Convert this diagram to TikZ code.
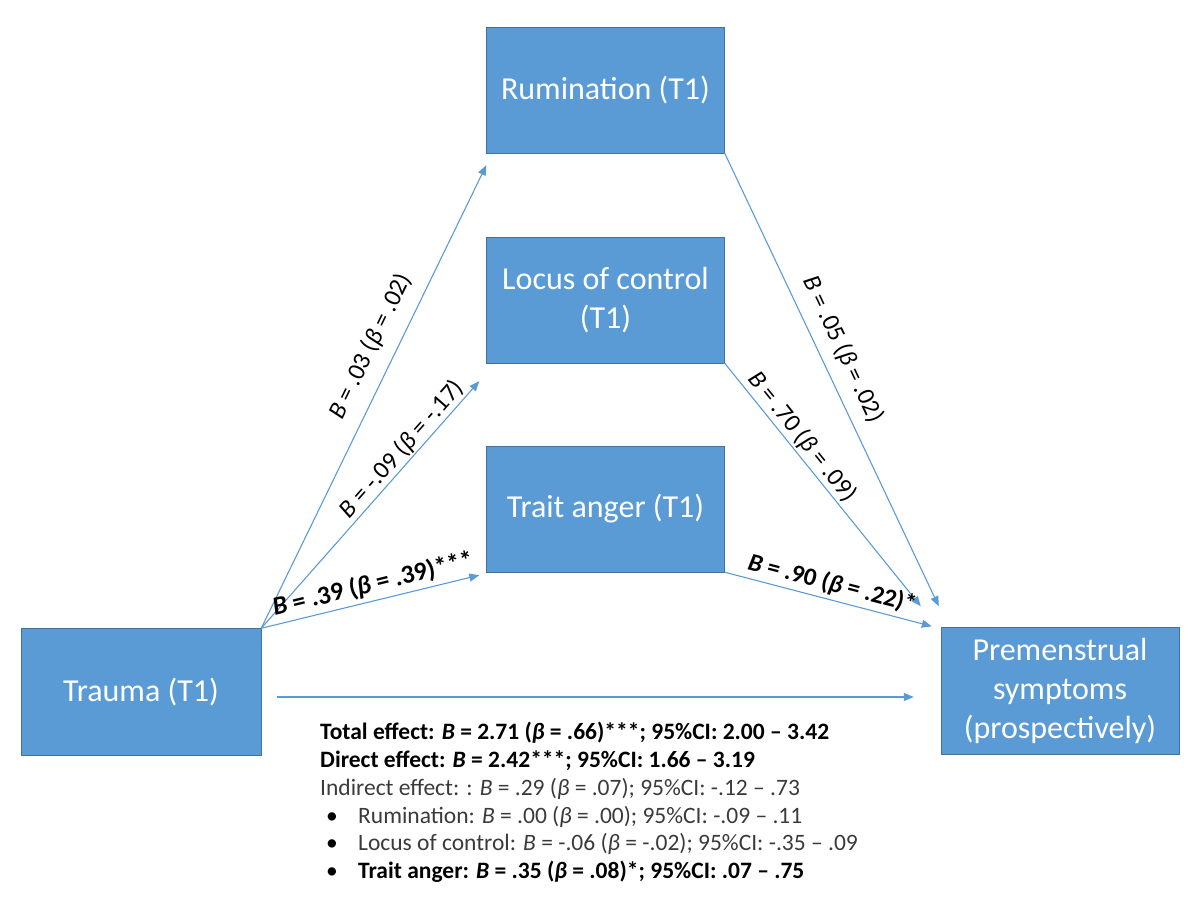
\documentclass[tikz,border=0pt]{standalone}
\usepackage{fontspec}
\setmainfont{Carlito}
\usetikzlibrary{arrows.meta}
\usepackage{xcolor}

\definecolor{boxblue}{HTML}{5B9BD5}
\definecolor{boxedge}{HTML}{41719C}
\definecolor{txtgray}{HTML}{3A3A3A}
\newcommand{\effbullet}{\hspace*{6pt}\makebox[32pt][l]{\color{black}•}}

\begin{document}
\begin{tikzpicture}[
    x=1pt, y=-1pt,        % pixel grid, y runs downwards
    >={Triangle[length=10pt, width=8pt]},
    var/.style = {
        rectangle, draw = boxedge, fill = boxblue,
        minimum width = 238pt, minimum height = 126pt,
        text = white, align = center,
        font = \fontsize{32}{39}\selectfont
    },
    coef/.style = {
        sloped, above, inner sep = 4pt, text = black,
        font = \fontsize{25}{30}\selectfont
    },
    effects/.style = {
        align = left, inner sep = 0pt,
        font = \fontsize{23.5}{27.8}\selectfont
    },
    arrow/.style = {->, draw = boxblue, line width = 1.1pt}
]
\useasboundingbox (0,0) rectangle (1200,907);

% --- Variables placed by absolute coordinates (px) ---
\node[var] (rum)    at (605.5,  90) {Rumination (T1)};

\node[var] (loc)    at (605.5, 300) {Locus of control\\(T1)};

\node[var] (ang)    at (605.5, 509) {Trait anger (T1)};

\node[var, minimum width = 240pt, minimum height = 127pt]
           (trauma) at (141, 692)   {Trauma (T1)};

\node[var, minimum height = 127pt]
           (pms)    at (1060, 691)  {Premenstrual\\symptoms\\(prospectively)};

% --- Arrow ends that stop short of the boxes ---
\coordinate (rumIn)  at ([yshift=-12pt]rum.south west);
\coordinate (locIn)  at ([xshift=-7pt, yshift=-18pt]loc.south west);
\coordinate (angIn)  at ([xshift=-7pt, yshift=-3pt]ang.south west);
\coordinate (pmsA)   at ([xshift=-2pt, yshift=21pt]pms.north west);
\coordinate (pmsB)   at ([xshift=-20pt, yshift=21pt]pms.north west);
\coordinate (pmsC)   at ([xshift=-9pt, yshift=1pt]pms.north west);
\coordinate (trOut)  at ([xshift=16pt, yshift=-5pt]trauma.east);
\coordinate (pmsD)   at ([xshift=-27pt, yshift=-6pt]pms.west);

% --- Paths and coefficients ---
\draw[arrow] (trauma.north east) -- node[coef, pos=0.585, inner sep=13pt]
    {\textit{B} = .03 (\textit{β} = .02)} (rumIn);
\draw[arrow] (trauma.north east) -- node[coef, pos=0.69, inner sep=1pt]
    {\textit{B} = -.09 (\textit{β} = -.17)} (locIn);
\draw[arrow] (trauma.north east) -- node[coef, pos=0.53, font=\fontsize{26}{31}\selectfont\bfseries]
    {\textit{B} = .39 (\textit{β} = .39)***} (angIn);

\draw[arrow] (rum.south east) -- node[coef, pos=0.455, inner sep=11pt]
    {\textit{B} = .05 (\textit{β} = .02)} (pmsA);
\draw[arrow] (loc.south east) -- node[coef, pos=0.34, inner sep=2pt]
    {\textit{B} = .70 (\textit{β} = .09)} (pmsB);
\draw[arrow] (ang.south east) -- node[coef, pos=0.50, font=\fontsize{25}{30}\selectfont\bfseries]
    {\textit{B} = .90 (\textit{β} = .22)*} (pmsC);

\draw[arrow] (trOut) -- (pmsD);

% --- Effects summary ---
\node[effects, anchor=north west] (summary) at (320, 722) {%
  \textbf{Total effect: \textit{B} = 2.71 (\textit{β} = .66)***; 95\%CI: 2.00 -- 3.42}\\
  \textbf{Direct effect: \textit{B} = 2.42***; 95\%CI: 1.66 -- 3.19}\\
  {\color{txtgray}Indirect effect: : \textit{B} = .29 (\textit{β} = .07); 95\%CI: -.12 -- .73}\\
  \effbullet{\color{txtgray}Rumination: \textit{B} = .00 (\textit{β} = .00); 95\%CI: -.09 -- .11}\\
  \effbullet{\color{txtgray}Locus of control: \textit{B} = -.06 (\textit{β} = -.02); 95\%CI: -.35 -- .09}\\
  \effbullet\textbf{Trait anger: \textit{B} = .35 (\textit{β} = .08)*; 95\%CI: .07 -- .75}};

\end{tikzpicture}
\end{document}
